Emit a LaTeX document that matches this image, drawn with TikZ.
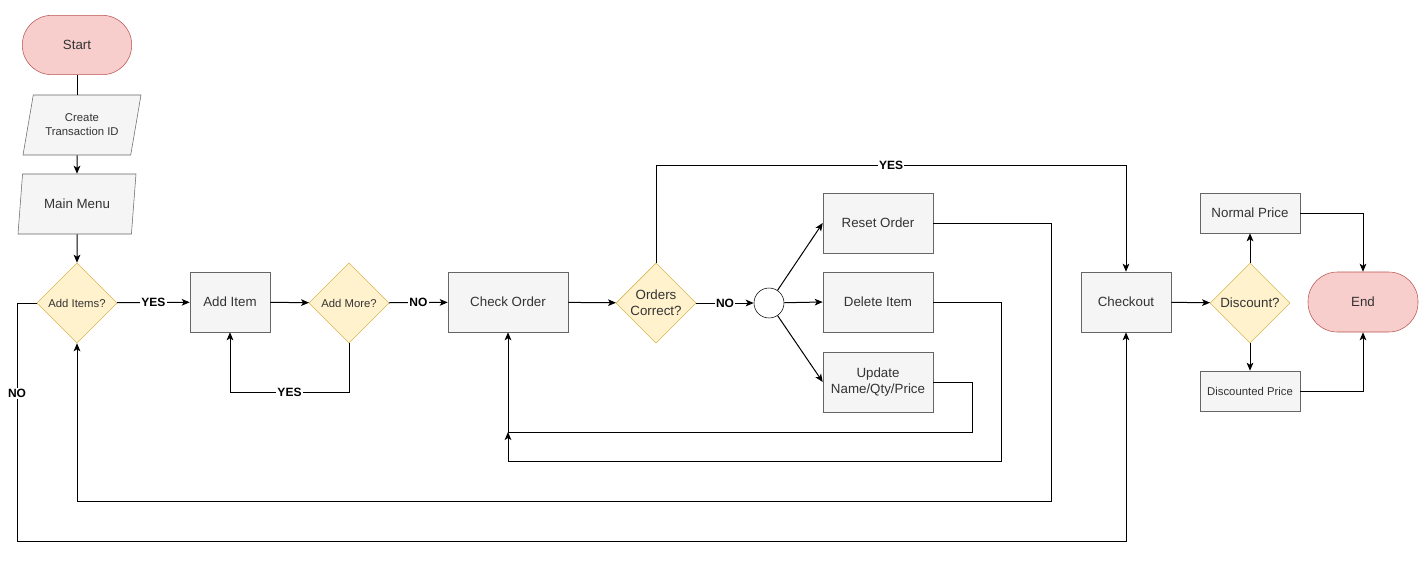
\documentclass[tikz,border=0pt]{standalone}
\usepackage{fontspec}
\setmainfont{Liberation Sans}
\usepackage{tikz}
\usetikzlibrary{shapes.geometric,arrows.meta,positioning,calc}
\usepackage{xcolor}
\definecolor{termFill}{HTML}{F8CECC}
\definecolor{termDraw}{HTML}{B85450}
\definecolor{procFill}{HTML}{F5F5F5}
\definecolor{procDraw}{HTML}{666666}
\definecolor{decFill}{HTML}{FFF2CC}
\definecolor{decDraw}{HTML}{D6B656}
\definecolor{txtGray}{HTML}{333333}

\begin{document}
\begin{tikzpicture}[
  x=0.75pt, y=-0.75pt,
  term/.style={rectangle, rounded corners=22pt, draw=termDraw, fill=termFill,
               minimum width=82pt, minimum height=44.5pt, inner sep=0pt,
               text=txtGray, font=\fontsize{10}{12}\selectfont},
  proc/.style={rectangle, draw=procDraw, fill=procFill,
               minimum width=#1, minimum height=45pt, inner sep=0pt,
               text=txtGray, align=center, font=\fontsize{10}{12}\selectfont},
  proc/.default=60pt,
  io/.style={trapezium, trapezium left angle=65, trapezium right angle=115,
             trapezium stretches body, draw=procDraw, fill=procFill,
             minimum width=88.5pt, minimum height=45pt, inner sep=0pt,
             text=txtGray, align=center, font=\fontsize{10}{12}\selectfont},
  dec/.style={diamond, draw=decDraw, fill=decFill,
              minimum width=60pt, minimum height=60pt, inner sep=0pt,
              text=txtGray, align=center, font=\fontsize{10}{12}\selectfont},
  small/.style={font=\fontsize{8.5}{10.5}\selectfont},
  hubnode/.style={circle, draw=black, fill=white, minimum size=22.5pt, inner sep=0pt},
  line/.style={line width=0.75pt, black},
  arr/.style={line, -{Stealth[length=6pt, width=5pt, inset=1.5pt]}},
  lbl/.style={fill=white, inner sep=1pt, font=\bfseries\fontsize{9}{10}\selectfont}
]
  \useasboundingbox (0,0) rectangle (1425,565);

  % left column
  \node[term] (start) at (77,45) {Start};
  \node[io, small] (txn) at (82,125) {Create\\Transaction ID};
  \node[io] (menu) at (77,204) {Main Menu};
  \node[dec, small] (addq) at (77,303) {Add Items?};

  % main row
  \node[proc] (additem) at (230,302) {Add Item};
  \node[dec, small] (moreq) at (349,303) {Add More?};
  \node[proc=90pt] (check) at (508,302) {Check Order};
  \node[dec] (correctq) at (656,303) {Orders\\Correct?};
  \node[hubnode] (hub) at (769,303) {};

  % edit options
  \node[proc=82.5pt] (reset) at (878,223) {Reset Order};
  \node[proc=82.5pt] (delete) at (878,302) {Delete Item};
  \node[proc=82.5pt] (update) at (878,382) {Update\\Name/Qty/Price};

  % checkout part
  \node[proc=67.5pt] (checkout) at (1126,302) {Checkout};
  \node[dec] (discq) at (1250,303) {Discount?};
  \node[proc=75pt, minimum height=30pt] (normal) at (1250,213) {Normal Price};
  \node[proc=75pt, minimum height=30pt, small] (discounted) at (1250,391) {Discounted Price};
  \node[term, minimum width=82.5pt, minimum height=45pt] (finish) at (1363,302) {End};

  \coordinate (merge) at (508,432);

  % connectors
  \draw[line] (start.south) -- (start.south |- txn.north);
  \draw[arr] (txn.south -| start) -- (menu.north);
  \draw[arr] (menu) -- (addq);
  \draw[arr] (addq) -- node[lbl]{YES} (additem);
  \draw[arr] (additem) -- (moreq);
  \draw[arr] (moreq) -- node[lbl]{NO} (check);
  \draw[arr] (moreq.south) -- ++(0,49) -| node[lbl, pos=0.25]{YES} (additem.south);
  \draw[arr] (addq.west) -| node[lbl, pos=0.69]{NO} (17,541) -| (checkout.south);
  \draw[arr] (check) -- (correctq);
  \draw[arr] (correctq.north) -- (656,165) -- node[lbl]{YES} (1126,165) -- (checkout.north);
  \draw[arr] (correctq) -- node[lbl]{NO} (hub);
  \foreach \t in {reset, delete, update}
    \draw[arr] (hub) -- (\t.west);

  % loops back
  \draw[arr] (reset.east) -| (1051,501) -| (addq.south);
  \draw[arr] (delete.east) -| (1001,461) -| (merge);
  \draw[arr] (update.east) -| (972,432) -| (check.south);

  \draw[arr] (checkout) -- (discq);
  \draw[arr] (discq) -- (normal);
  \draw[arr] (discq) -- (discounted);
  \draw[arr] (normal.east) -| (finish.north);
  \draw[arr] (discounted.east) -| (finish.south);
\end{tikzpicture}
\end{document}
